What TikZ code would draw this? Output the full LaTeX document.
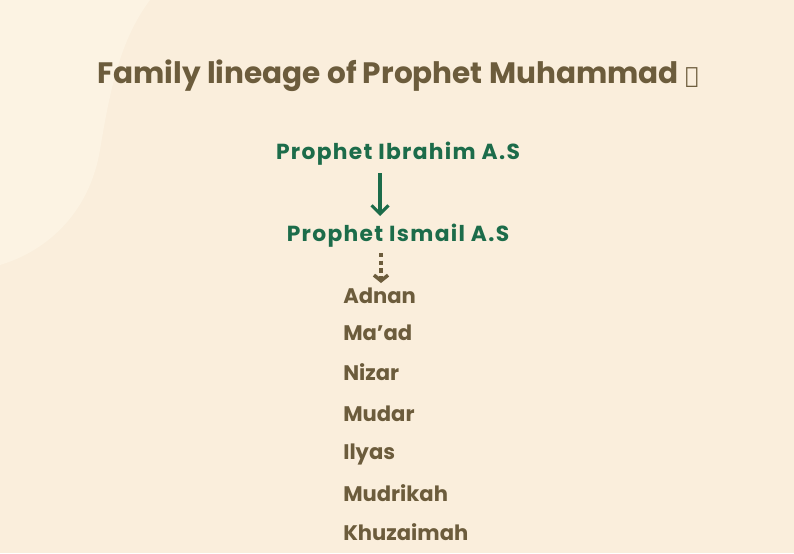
\documentclass[tikz,border=0pt]{standalone}
\usepackage{fontspec}
\setmainfont{Poppins}
\newfontfamily\greenfont[LetterSpace=6]{Poppins}
\newfontfamily\arabicfont[Script=Arabic]{DejaVu Sans}
\usetikzlibrary{arrows.meta, positioning}
\definecolor{bgcolor}{RGB}{250,238,220}
\definecolor{blobcolor}{RGB}{252,243,227}
\definecolor{namecolor}{RGB}{108,92,60}
\definecolor{prophetcolor}{RGB}{28,108,74}
\tikzset{
  ancestor/.style={anchor=west, inner sep=0pt, font=\fontsize{15}{15}\selectfont\bfseries, text=namecolor},
  prophetlabel/.style={inner sep=0pt, font=\fontsize{15.5}{16}\selectfont\greenfont\bfseries, text=prophetcolor}
}

\begin{document}
\begin{tikzpicture}[x=0.025cm, y=-0.025cm]
% Background and faint blob on the left
\fill[bgcolor] (0,0) rectangle (794,553);
\fill[blobcolor] (0,0) -- (150,0) .. controls (120,40) and (110,90) .. (100,150) .. controls (90,210) and (50,250) .. (0,265) -- cycle;
\useasboundingbox (0,0) rectangle (794,553);

% Title
\node[inner sep=0pt, font=\fontsize{21}{22}\selectfont\bfseries, text=namecolor] (title) at (398,76)
  {Family lineage of Prophet Muhammad {\arabicfont\fontsize{16}{16}\selectfont ﷺ}};

% Prophets
\node[prophetlabel] (ibrahim) at (398,154) {Prophet Ibrahim A.S};
\node[prophetlabel] (ismail) at (398,236) {Prophet Ismail A.S};

% Descendants
\foreach \id/\label/\y in {adnan/Adnan/296, maad/Ma’ad/333, nizar/Nizar/372, mudar/Mudar/414,
    ilyas/Ilyas/454, mudrikah/Mudrikah/493, khuzaimah/Khuzaimah/532} {
  \node[ancestor] (\id) at (343,\y) {\label};
}

% Connectors
\coordinate (a1) at (380,173);
\coordinate (a2) at (380,216);
\draw[prophetcolor, line width=2.2pt, -{Straight Barb[length=6pt, width=12pt, line width=2.2pt]}] (a1) -- (a2);
\coordinate (b1) at (381,253);
\coordinate (b2) at (381,283);
\draw[namecolor, line width=3pt, dash pattern=on 3pt off 2.5pt, -{Straight Barb[length=4pt, width=10pt, line width=2.5pt]}] (b1) -- (b2);
\end{tikzpicture}
\end{document}
